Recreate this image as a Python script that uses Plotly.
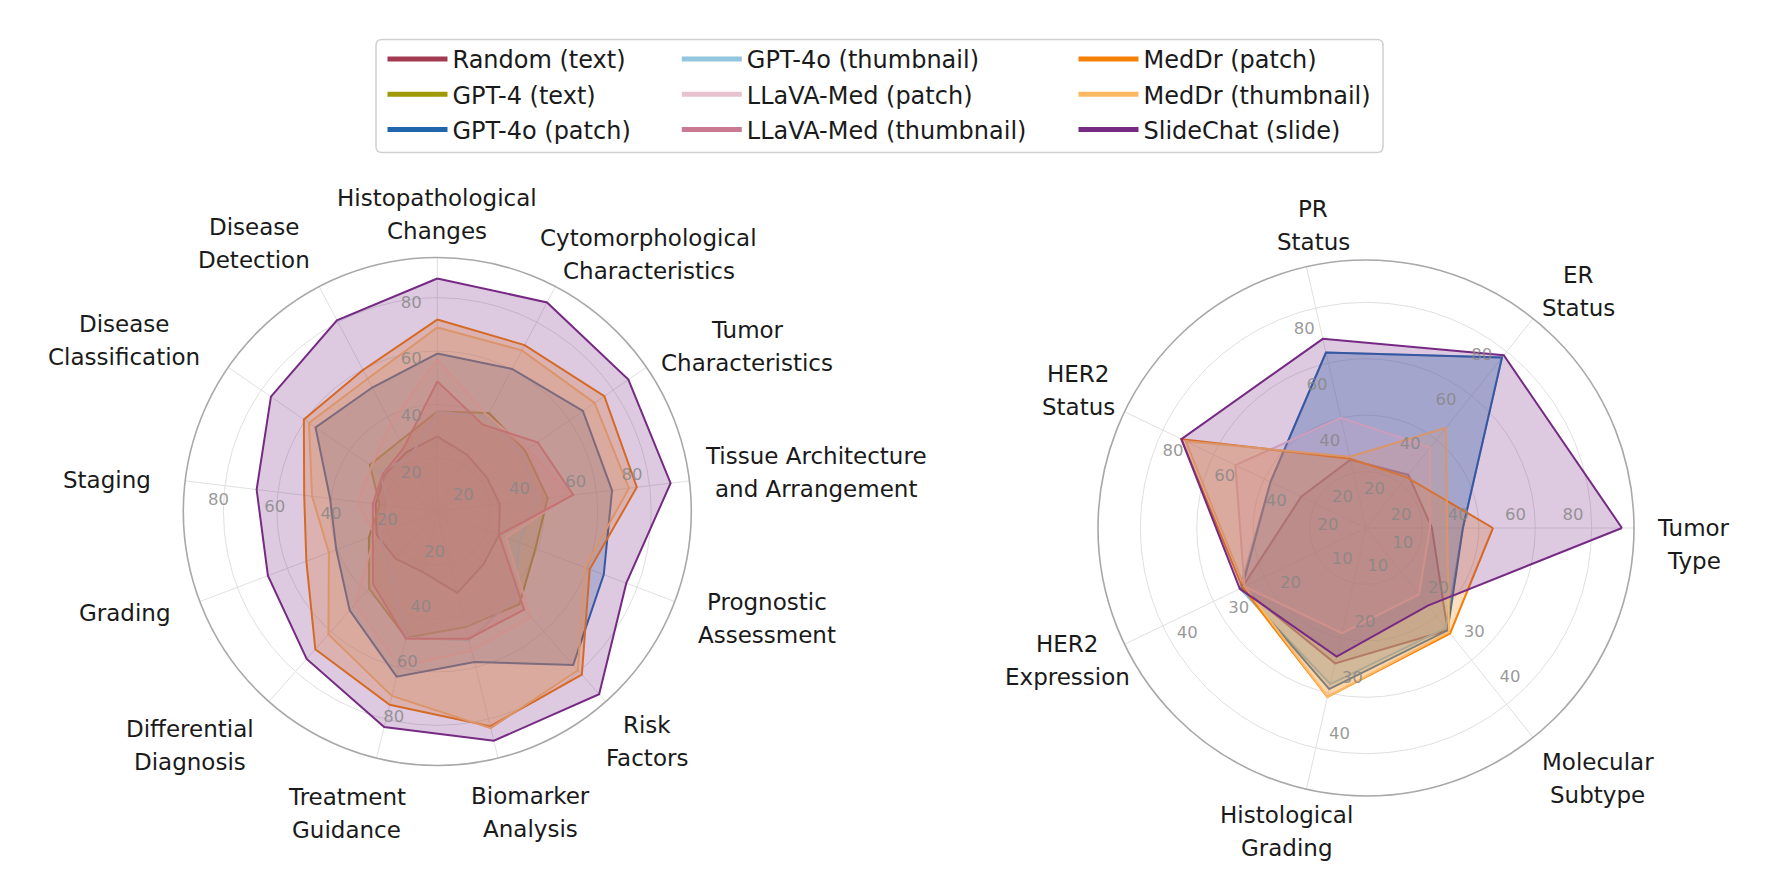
import math
import plotly.graph_objects as go

W, H = 1770, 892

# ---------------- data ----------------
SERIES = ["Random (text)", "GPT-4 (text)", "GPT-4o (patch)", "GPT-4o (thumbnail)",
          "LLaVA-Med (patch)", "LLaVA-Med (thumbnail)", "MedDr (patch)",
          "MedDr (thumbnail)", "SlideChat (slide)"]
COLORS = ["#a23a50", "#9e9a06", "#2166ac", "#92c5de", "#e8c3cf",
          "#c97a92", "#f57f07", "#fdb863", "#762a83"]

LEFT_AXES = ["Histopathological\nChanges", "Cytomorphological\nCharacteristics",
             "Tumor\nCharacteristics", "Tissue Architecture\nand Arrangement",
             "Prognostic\nAssessment", "Risk\nFactors", "Biomarker\nAnalysis",
             "Treatment\nGuidance", "Differential\nDiagnosis", "Grading", "Staging",
             "Disease\nClassification", "Disease\nDetection"]
LEFT_LO = [6.6, 6.6, 6.6, 6.6, 6.6, 6.6, 6.6, 6.6, 6.6, 6.6, 6.6, 6.6, 6.6]
LEFT_HI = [96.2, 96.2, 96.2, 96.2, 96.2, 96.2, 96.2, 96.2, 96.2, 96.2, 96.2, 96.2, 96.2]
LEFT_TICKS = [20, 40, 60, 80]
LEFT_TICK_AXES = [0, 3, 7, 10]

L_RANDOM = [33.1, 29.2, 27.8, 28.8, 29.9, 31.3, 36.2, 28.5, 28.8, 29.5, 28.5, 29.2, 30.2]
L_GPT4 = [41.9, 45.8, 44.3, 45.8, 43.6, 50.3, 48.6, 52.5, 42.9, 32.4, 27.1, 35.5, 34.8]
L_GPT4O_PATCH = [62.3, 63.4, 69.0, 68.7, 69.4, 78.9, 61.3, 66.6, 53.2, 44.7, 44.7, 58.8, 56.0]
L_GPT4O_THUMB = [41.9, 44.3, 42.9, 41.9, 37.6, 47.5, 53.5, 52.5, 32.4, 28.5, 23.5, 31.7, 27.8]
L_LLAVA_PATCH = [60.2, 44.7, 45.4, 53.9, 32.5, 56.3, 57.1, 63.0, 50.3, 30.2, 34.8, 34.8, 41.9]
L_LLAVA_THUMB = [52.5, 41.2, 49.6, 54.9, 29.9, 52.8, 52.8, 52.8, 40.8, 30.9, 29.5, 29.9, 32.0]
L_MEDDR_PATCH = [74.3, 72.9, 78.2, 77.5, 64.1, 83.5, 84.6, 76.8, 71.5, 56.0, 53.9, 63.8, 63.0]
L_MEDDR_THUMB = [71.5, 70.8, 74.0, 74.7, 62.3, 81.4, 85.3, 73.6, 64.5, 47.5, 51.1, 61.6, 59.5]
L_SLIDECHAT = [88.8, 89.9, 88.5, 89.5, 77.9, 92.7, 89.9, 84.9, 76.1, 70.5, 70.8, 77.9, 82.8]

RIGHT_AXES = ["Tumor\nType", "ER\nStatus", "PR\nStatus", "HER2\nStatus",
              "HER2\nExpression", "Histological\nGrading", "Molecular\nSubtype"]
RIGHT_LO = [7.8, 7.8, 7.8, 7.8, 3.9, 3.9, 3.9]
RIGHT_HI = [101.3, 101.3, 101.3, 101.3, 50.6, 50.6, 50.6]
RIGHT_TICKS = [[20, 40, 60, 80], [20, 40, 60, 80], [20, 40, 60, 80], [20, 40, 60, 80],
               [10, 20, 30, 40], [10, 20, 30, 40], [10, 20, 30, 40]]

R_RANDOM = [30.8, 31.5, 32.2, 32.9, 27.9, 28.1, 26.7]
R_GPT4O_PATCH = [41.6, 83.9, 70.6, 44.8, 27.9, 32.7, 26.7]
R_GPT4O_THUMB = [41.6, 83.9, 70.6, 44.8, 28.3, 31.8, 26.2]
R_LLAVA_PATCH = [30.1, 43.7, 47.2, 58.4, 27.4, 22.7, 18.7]
R_MEDDR_PATCH = [52.1, 30.5, 32.6, 79.3, 27.8, 34.1, 27.4]
R_MEDDR_THUMB = [36.1, 52.5, 33.3, 77.6, 27.4, 34.1, 27.1]
R_SLIDECHAT = [97.1, 84.9, 75.5, 79.3, 28.3, 26.9, 21.2]

LEFT_DATA = [("Random (text)", L_RANDOM), ("GPT-4 (text)", L_GPT4),
             ("GPT-4o (patch)", L_GPT4O_PATCH), ("GPT-4o (thumbnail)", L_GPT4O_THUMB),
             ("LLaVA-Med (patch)", L_LLAVA_PATCH), ("LLaVA-Med (thumbnail)", L_LLAVA_THUMB),
             ("MedDr (patch)", L_MEDDR_PATCH), ("MedDr (thumbnail)", L_MEDDR_THUMB),
             ("SlideChat (slide)", L_SLIDECHAT)]
RIGHT_DATA = [("Random (text)", R_RANDOM), ("GPT-4o (thumbnail)", R_GPT4O_THUMB),
              ("GPT-4o (patch)", R_GPT4O_PATCH), ("LLaVA-Med (patch)", R_LLAVA_PATCH),
              ("MedDr (patch)", R_MEDDR_PATCH), ("MedDr (thumbnail)", R_MEDDR_THUMB),
              ("SlideChat (slide)", R_SLIDECHAT)]

# ---------------- layout / style ----------------
FONT = "DejaVu Sans"
OFF = 8.0  # page margin of the html body (px)
LEFT_GEOM = dict(cx=437.3, cy=511.5, R=254.0, start=90.0, sign=-1, name="polar")
RIGHT_GEOM = dict(cx=1366.0, cy=528.0, R=268.0, start=0.0, sign=1, name="polar2")
GRID_FRACS = [20 / 95, 40 / 95, 60 / 95, 80 / 95]
# per-spoke perpendicular offset (px) of the radial tick labels, and horizontal shift
LEFT_TICK_PERP = [15.5, 10.7, 17.2, 14.5]
LEFT_TICK_HSHIFT = 10.5
RIGHT_TICK_PERP = [12.0, 17.0, 16.0, 15.0, 18.0, 20.0, 19.0]
RIGHT_TICK_HSHIFT = 0.0
LEFT_LABEL_POS = [(297, 90), (333, 50.6), (351, 28), (381, 5.8), (347, -18),
                  (311, -47.6), (315.5, -72.8), (314.8, -106.7), (340.5, -136.6),
                  (328.8, -162), (331.5, 174.5), (356.5, 151.4), (325, 124.3)]
RIGHT_LABEL_POS = [(328, -2.8), (318, 48.1), (306.8, 99.9), (319, 154.5),
                   (327, -156.1), (314, -104.6), (341.5, -47.3)]
LINE_GAP = 33.0


def px(x):
    return (x - OFF) / W


def py(y):
    return 1 - (y - OFF) / H


def rgba(hexc, a):
    h = hexc.lstrip("#")
    return "rgba(%d,%d,%d,%.3f)" % (int(h[0:2], 16), int(h[2:4], 16), int(h[4:6], 16), a)


def angles(geom, n):
    return [geom["start"] + geom["sign"] * i * 360.0 / n for i in range(n)]


def domain(geom):
    cx, cy, R = geom["cx"], geom["cy"], geom["R"]
    return dict(x=[px(cx - R), px(cx + R)], y=[py(cy + R), py(cy - R)])


fig = go.Figure()
color_of = dict(zip(SERIES, COLORS))


def add_chart(geom, data, lo, hi):
    n = len(lo)
    ang = angles(geom, n)
    for name, vals in data:
        rn = [(v - lo[i]) / (hi[i] - lo[i]) for i, v in enumerate(vals)]
        fig.add_trace(go.Scatterpolar(
            r=rn + rn[:1], theta=ang + ang[:1], mode="lines", fill="toself",
            fillcolor=rgba(color_of[name], 0.25),
            line=dict(color=color_of[name], width=2.0),
            subplot=geom["name"], showlegend=False, hoverinfo="skip"))


def add_ticklabels(geom, lo, hi, tick_axes, ticks_for, perp, hw):
    n = len(lo)
    ang = angles(geom, n)
    R = geom["R"]
    rs, ths, txt = [], [], []
    for k, i in enumerate(tick_axes):
        a = math.radians(ang[i])
        ux, uy = math.cos(a), math.sin(a)
        nx, ny = -uy, ux
        t_off = perp[k] if hw == 0 else perp[k]
        for t in ticks_for(i):
            r0 = (t - lo[i]) / (hi[i] - lo[i])
            qx = r0 * ux + (t_off * nx - hw) / R
            qy = r0 * uy + (t_off * ny) / R
            rs.append(math.hypot(qx, qy))
            ths.append(math.degrees(math.atan2(qy, qx)))
            txt.append(str(t))
    fig.add_trace(go.Scatterpolar(
        r=rs, theta=ths, mode="text", text=txt, textposition="middle center",
        textfont=dict(family=FONT, size=16.5, color="rgba(135,135,135,0.85)"),
        subplot=geom["name"], showlegend=False, hoverinfo="skip", cliponaxis=False))


add_chart(LEFT_GEOM, LEFT_DATA, LEFT_LO, LEFT_HI)
add_chart(RIGHT_GEOM, RIGHT_DATA, RIGHT_LO, RIGHT_HI)
add_ticklabels(LEFT_GEOM, LEFT_LO, LEFT_HI, LEFT_TICK_AXES, lambda i: LEFT_TICKS,
               LEFT_TICK_PERP, LEFT_TICK_HSHIFT)
add_ticklabels(RIGHT_GEOM, RIGHT_LO, RIGHT_HI, list(range(len(RIGHT_LO))),
               lambda i: RIGHT_TICKS[i], RIGHT_TICK_PERP, RIGHT_TICK_HSHIFT)

# legend-only entries (thick lines), three columns
LEGEND_COLS = [SERIES[0:3], SERIES[3:6], SERIES[6:9]]
LEGEND_NAMES = ["legend", "legend2", "legend3"]
for col, lname in zip(LEGEND_COLS, LEGEND_NAMES):
    for s in col:
        fig.add_trace(go.Scatterpolar(
            r=[None], theta=[None], mode="lines", name=s,
            line=dict(color=color_of[s], width=5), legend=lname,
            legendgroup=s, subplot="polar", hoverinfo="skip"))

# category labels as annotations
annotations = []
for geom, labels, pos in [(LEFT_GEOM, LEFT_AXES, LEFT_LABEL_POS),
                          (RIGHT_GEOM, RIGHT_AXES, RIGHT_LABEL_POS)]:
    for lab, (rp, a) in zip(labels, pos):
        x = geom["cx"] + rp * math.cos(math.radians(a))
        y = geom["cy"] - rp * math.sin(math.radians(a))
        lines = lab.split("\n")
        for k, ln in enumerate(lines):
            yy = y + (k - (len(lines) - 1) / 2.0) * LINE_GAP
            annotations.append(dict(
                x=px(x), y=py(yy), xref="paper", yref="paper", text=ln,
                showarrow=False, xanchor="center", yanchor="middle",
                font=dict(family=FONT, size=23, color="#1a1a1a")))


def polar_layout(geom, n):
    ang = angles(geom, n)
    return dict(
        domain=domain(geom), bgcolor="white",
        radialaxis=dict(range=[0, 1], tickvals=GRID_FRACS, showticklabels=False,
                        ticks="", showline=False, gridcolor="#e0e0e0", gridwidth=1),
        angularaxis=dict(type="linear", thetaunit="degrees", direction="counterclockwise",
                         rotation=0, tickvals=[a % 360 for a in ang], showticklabels=False,
                         ticks="", gridcolor="#e0e0e0", gridwidth=1,
                         showline=True, linecolor="#a8a8a8", linewidth=1.6))


# legend frame (rounded rectangle)
x0, x1, y0, y1, rr = 376.0, 1383.0, 39.5, 152.5, 6.0


def P(x, y):
    return "%.5f,%.5f" % (px(x), py(y))


frame = ("M " + P(x0 + rr, y0) + " L " + P(x1 - rr, y0) + " Q " + P(x1, y0) + " " + P(x1, y0 + rr) +
         " L " + P(x1, y1 - rr) + " Q " + P(x1, y1) + " " + P(x1 - rr, y1) +
         " L " + P(x0 + rr, y1) + " Q " + P(x0, y1) + " " + P(x0, y1 - rr) +
         " L " + P(x0, y0 + rr) + " Q " + P(x0, y0) + " " + P(x0 + rr, y0) + " Z")

# page x of each legend column's text start
LEG_TEXT_X = [452.7, 747.0, 1143.7]
ITEM_W = 60
leg_common = dict(orientation="v", xanchor="left", yanchor="top", bgcolor="rgba(0,0,0,0)",
                  font=dict(family=FONT, size=24, color="#1a1a1a"), itemwidth=ITEM_W,
                  tracegroupgap=1, borderwidth=0)
layout_legends = {}
for lname, tx in zip(LEGEND_NAMES, LEG_TEXT_X):
    layout_legends[lname] = dict(x=px(tx - ITEM_W - 10.2), y=py(37), **leg_common)

fig.update_layout(
    width=W, height=H, margin=dict(l=0, r=0, t=0, b=0),
    paper_bgcolor="white", plot_bgcolor="white",
    polar=polar_layout(LEFT_GEOM, len(LEFT_LO)),
    polar2=polar_layout(RIGHT_GEOM, len(RIGHT_LO)),
    annotations=annotations,
    shapes=[dict(type="path", path=frame, xref="paper", yref="paper",
                 line=dict(color="#d0d0d0", width=1.5), fillcolor="rgba(255,255,255,0.8)",
                 layer="below")],
    **layout_legends)

fig.write_html("out.html")
